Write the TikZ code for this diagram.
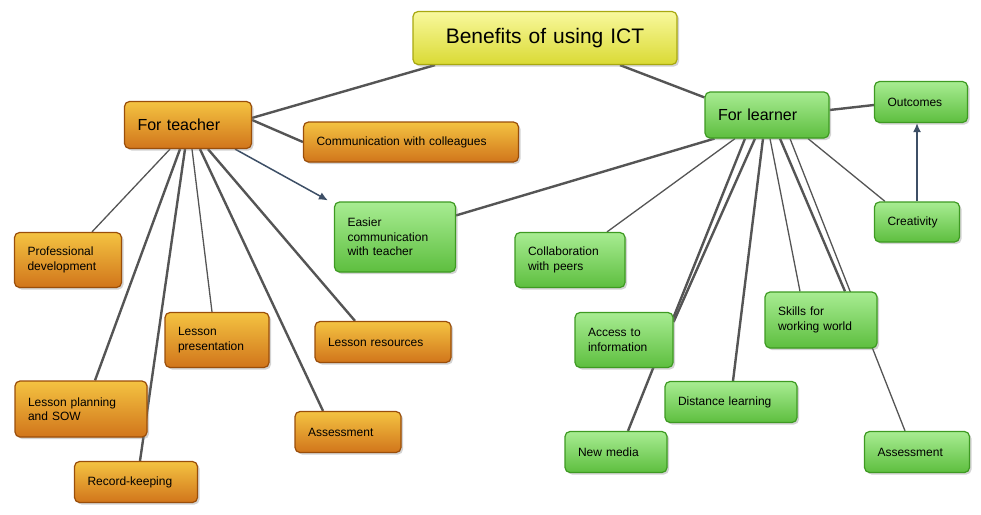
\documentclass[tikz,border=0pt]{standalone}
\usepackage{fontspec}
\setmainfont{Liberation Sans}
\usetikzlibrary{backgrounds,shadows,arrows.meta}
\definecolor{orf}{HTML}{E8821E}
\definecolor{ord}{HTML}{9A4E0A}
\definecolor{grf}{HTML}{6EE04A}
\definecolor{grd}{HTML}{3E9A22}
\definecolor{yef}{HTML}{F2F23A}
\definecolor{yed}{HTML}{A8A810}
\definecolor{edge}{HTML}{555555}
\definecolor{arr}{HTML}{3D4F66}
\tikzset{
  x=1pt,y=-1pt,
  box/.style 2 args={draw, line width=1.2pt, rounded corners=5pt, minimum width=#1pt, minimum height=#2pt,
    text width=#1pt-26pt, inner xsep=13pt, align=left, font=\fontsize{12}{14.5}\selectfont,
    drop shadow={shadow xshift=2pt,shadow yshift=-2pt,opacity=0.35}},
  ob/.style={fill=orf, draw=ord, top color=orf!60!yellow!80!white, bottom color=orf!90!black},
  gb/.style={fill=grf, draw=grd, top color=grf!60!white, bottom color=grf!85!black},
  ln/.style={draw=edge, line width=2.4pt},
  tl/.style={draw=edge, line width=1.3pt},
}
\begin{document}
\begin{tikzpicture}
\useasboundingbox (0,0) rectangle (981,514);
\node[box={264}{53}, draw=yed, top color=yef!50!white, bottom color=yef!90!black, font=\fontsize{21}{24}\selectfont, align=center] (title) at (545,38) {Benefits of using ICT};
\node[box={127}{47}, ob, font=\fontsize{16}{18}\selectfont] (t) at (188,125) {For teacher};
\node[box={215}{40}, ob] (cc) at (411,142) {Communication with colleagues};
\node[box={121}{70}, gb] (ec) at (395,237) {Easier\\communication\\with teacher};
\node[box={107}{55}, ob] (pd) at (68,260) {Professional\\development};
\node[box={104}{55}, ob] (lp) at (217,340) {Lesson\\presentation};
\node[box={136}{41}, ob] (lr) at (383,342) {Lesson resources};
\node[box={132}{56}, ob] (ls) at (81,409) {Lesson planning\\and SOW};
\node[box={106}{41}, ob] (ta) at (348,432) {Assessment};
\node[box={123}{41}, ob] (rk) at (136,482) {Record-keeping};
\node[box={124}{46}, gb, font=\fontsize{16}{18}\selectfont] (l) at (767,115) {For learner};
\node[box={93}{41}, gb] (oc) at (921,102) {Outcomes};
\node[box={85}{40}, gb] (cr) at (917,222) {Creativity};
\node[box={110}{55}, gb] (cp) at (570,260) {Collaboration\\with peers};
\node[box={98}{55}, gb] (ai) at (624,340) {Access to\\information};
\node[box={112}{56}, gb] (sw) at (821,320) {Skills for\\working world};
\node[box={132}{41}, gb] (dl) at (731,402) {Distance learning};
\node[box={102}{41}, gb] (nm) at (616,452) {New media};
\node[box={105}{41}, gb] (la) at (917,452) {Assessment};
\begin{scope}[on background layer]
\draw[ln] ([xshift=-110pt]title.south) -- ([yshift=-17pt]t.north east);
\draw[ln] ([xshift=75pt]title.south) -- ([yshift=-6pt]l.north west);
\draw[tl] ([xshift=-18pt]t.south) -- ([xshift=24pt]pd.north);
\draw[ln] ([xshift=-8pt]t.south) -- ([xshift=14pt]ls.north);
\draw[ln] ([xshift=-3pt]t.south) -- ([xshift=4pt]rk.north);
\draw[tl] ([xshift=4pt]t.south) -- ([xshift=-5pt]lp.north);
\draw[ln] ([xshift=12pt]t.south) -- ([xshift=-25pt]ta.north);
\draw[ln] ([xshift=20pt]t.south) -- ([xshift=-28pt]lr.north);
\draw[ln] ([yshift=5pt]t.east) -- (cc.west);
\draw[arr, line width=1.5pt, -{Latex[length=9pt,width=8pt]}] ([xshift=-17pt]t.south east) -- ([xshift=-6pt,yshift=1pt]ec.north west);
\draw[ln] ([yshift=-14pt]ec.north east) -- ([xshift=10pt]l.south west);
\draw[tl] ([xshift=37pt]cp.north) -- ([xshift=-32pt]l.south);
\draw[ln] ([xshift=-22pt]l.south) -- ([xshift=12pt]nm.north);
\draw[ln] ([xshift=-12pt]l.south) -- ([yshift=-10pt]ai.north east);
\draw[ln] ([xshift=-4pt]l.south) -- ([xshift=2pt]dl.north);
\draw[tl] ([xshift=3pt]l.south) -- ([xshift=-21pt]sw.north);
\draw[ln] ([xshift=13pt]l.south) -- ([xshift=24pt]sw.north);
\draw[tl] ([xshift=23pt]l.south) -- ([xshift=-12pt]la.north);
\draw[tl] ([xshift=41pt]l.south) -- ([xshift=-32pt]cr.north);
\draw[ln] ([yshift=5pt]l.east) -- ([yshift=-3pt]oc.west);
\draw[arr, line width=1.5pt, -{Latex[length=9pt,width=8pt]}] (cr.north) -- ([xshift=-4pt]oc.south);
\end{scope}
\end{tikzpicture}
\end{document}
